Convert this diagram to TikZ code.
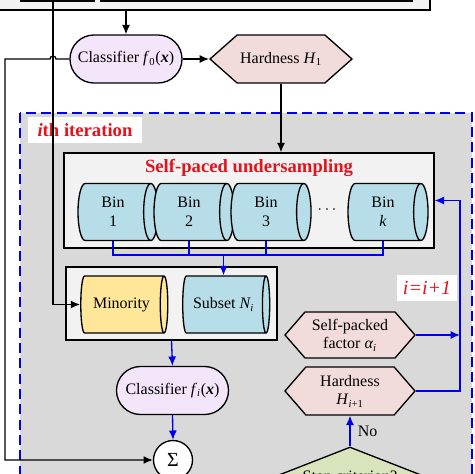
\documentclass[tikz,border=0pt]{standalone}
\usepackage{fontspec}
\setmainfont{Liberation Serif}
\usetikzlibrary{arrows.meta,shapes.geometric,shapes.misc,shapes.symbols}
\definecolor{panelgray}{RGB}{242,242,242}
\definecolor{itergray}{RGB}{217,217,217}
\definecolor{clfpurple}{RGB}{244,230,250}
\definecolor{hardpink}{RGB}{242,220,219}
\definecolor{binblue}{RGB}{183,222,232}
\definecolor{minorgold}{RGB}{255,230,153}
\definecolor{stopgreen}{RGB}{216,228,188}
\definecolor{titlered}{RGB}{225,20,30}
\definecolor{loopblue}{RGB}{0,0,235}
\begin{document}
\begin{tikzpicture}[x=0.75pt,y=-0.75pt,>={Latex[length=7pt,width=6pt]},
  font=\fontsize{12}{14}\selectfont,
  panel/.style={draw,line width=1pt,fill=panelgray,inner sep=0pt},
  clf/.style={rounded rectangle,draw,line width=1pt,fill=clfpurple,minimum width=86pt,minimum height=36pt,inner sep=1pt},
  hard/.style={signal,signal to=west and east,draw,line width=1pt,fill=hardpink,inner sep=1pt,align=center},
  bin/.style={cylinder,draw,line width=1pt,fill=binblue,aspect=0.45,minimum height=60pt,minimum width=42.75pt,inner sep=1pt,align=center},
  redlabel/.style={fill=white,text=titlered,inner sep=0pt},
  blueline/.style={loopblue,line width=1pt}]
\useasboundingbox (0,0) rectangle (474,474);
\clip (0,0) rectangle (474,474);

% input box (cut by the top edge)
\node[panel,minimum width=324pt,minimum height=30pt] (inbox) at (214,-10) {};
\fill (20,-20) rectangle (95,2);
\fill (100,-20) rectangle (413,2);
\coordinate (tap) at (53,2);

% i-th iteration region
\draw[loopblue,line width=1.5pt,dash pattern=on 7.5pt off 4pt,fill=itergray] (20,113) rectangle (472,520);
\node[redlabel,minimum width=85.5pt,minimum height=20pt,font=\fontsize{14}{16}\selectfont\bfseries] (iter) at (85,130) {\textit{i}th iteration};

%---------------------------------

\node[clf] (clf0) at (126,59) {Classifier \textit{f}\textsubscript{0}(\textbf{\textit{x}})};
\node[hard,minimum width=106.5pt,minimum height=36pt,signal pointer angle=83] (hard1) at (281,59) {Hardness \textit{H}\textsubscript{1}};

%---------------------------------

\node[panel,minimum width=277.5pt,minimum height=71.25pt] (spu) at (249,200.5) {};
\node[text=titlered,font=\fontsize{14}{16}\selectfont\bfseries] (sputitle) at (249,168) {Self-paced undersampling};
\node[bin] (bin1) at (113,212) {Bin\\1};
\node[bin] (bin2) at (189,212) {Bin\\2};
\node[bin] (bin3) at (266,212) {Bin\\3};
\node[] (dots) at (327,210) {$\cdots$};
\node[bin] (bink) at (383,212) {Bin\\\textit{k}};

%---------------------------------

\node[panel,minimum width=158.25pt,minimum height=54.75pt] (lowbox) at (171.5,303.5) {};
\node[bin,fill=minorgold,minimum height=65.25pt] (minor) at (121.5,304.5) {Minority};
\node[bin,minimum height=65.25pt] (subset) at (223.5,304.5) {Subset \textit{N\textsubscript{i}}};

\node[clf] (clfi) at (172.5,390.5) {Classifier \textit{f}\textsubscript{\textit{i}}(\textbf{\textit{x}})};
\node[circle,draw,line width=1pt,fill=white,minimum size=29.25pt,inner sep=0pt,font=\fontsize{15}{16}\selectfont] (sigma) at (173,460) {Σ};

\node[hard,minimum width=97.5pt,minimum height=34.5pt,signal pointer angle=98] (factor) at (350,335) {Self-packed\\factor \textit{α}\textsubscript{\textit{i}}};
\node[hard,minimum width=97.5pt,minimum height=36pt,signal pointer angle=98] (hardi) at (350,391) {Hardness\\\textit{H}\textsubscript{\textit{i}+1}};
\node[diamond,aspect=2.55,draw,line width=1pt,fill=stopgreen,minimum width=118.5pt,minimum height=46.5pt,inner sep=0pt] (stop) at (350,478) {Stop criterion?};
\node[redlabel,minimum width=45pt,minimum height=20pt,font=\fontsize{15}{16}\selectfont\itshape] (incr) at (427,288) {i=i+1};

%---------------------------------

\coordinate (bus) at (0,255);
\coordinate (loop) at (460,300);
\coordinate (hop) at (tap |- clf0.west);
\coordinate (leftx) at (5,59);
\coordinate (fromsum) at (190,478);

\draw[line width=1pt,->] (clf0 |- inbox.south) -- (clf0.north);
\draw[line width=1pt,->] (clf0.east) -- (hard1.west);
\draw[line width=1pt,->] (hard1.south) -- (hard1.south |- spu.north);
\draw[line width=1pt,->] (tap) |- (minor.west);
\draw[line width=1pt,->] (clf0.west) -- ([xshift=2.25pt]hop) arc[start angle=0,end angle=-180,radius=3] -- (leftx) |- (sigma.west);

\draw[blueline] (bin1.south) -- (bin1.south |- bus) -- (bink.south |- bus) -- (bink.south);
\foreach \b in {bin2,bin3}
  \draw[blueline] (\b.south) -- (\b.south |- bus);
\draw[blueline,->] (subset.north |- bus) -- (subset.north);
\draw[blueline,->] (lowbox.south) -- (clfi.north);
\draw[blueline,->] (clfi.south) -- (sigma.north);
\draw[blueline,->] (stop.north) -- node[right,black,xshift=2pt] {No} (hardi.south);
\draw[blueline,->] (hardi.east) -- (hardi.east -| loop) -- (loop |- spu.east) -- (spu.east);
\draw[blueline,->] (factor.east) -- (factor.east -| loop);
\draw[blueline,->] (fromsum) -- (stop.west);
\end{tikzpicture}
\end{document}
